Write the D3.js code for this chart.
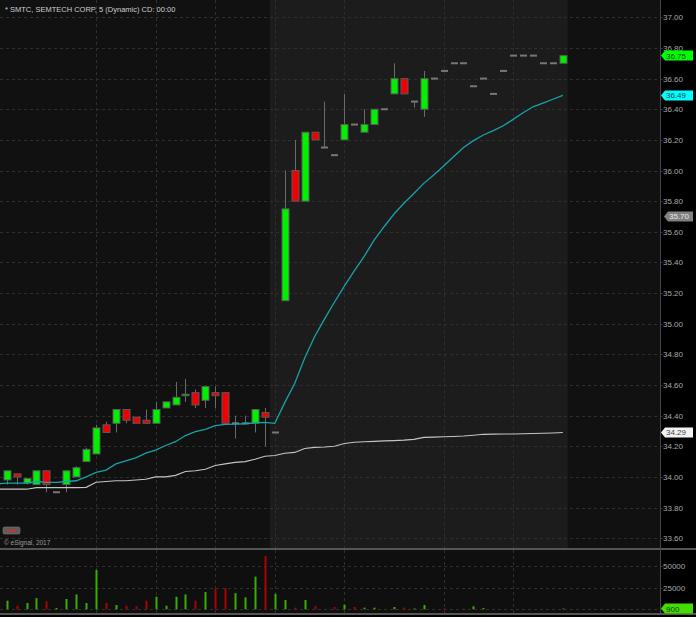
<!DOCTYPE html>
<html>
<head>
<meta charset="utf-8">
<script src="https://cdn.jsdelivr.net/npm/d3@7/dist/d3.min.js"></script>
<style>
  body { margin: 0; background: #000; overflow: hidden; }
  svg { display: block; font-family: Arial, "Liberation Sans", Helvetica, sans-serif; }
</style>
</head>
<body>
<svg id="chart" width="696" height="617"></svg>
<script>
// --- data (5 minute bars, SMTC) ---
const title = "* SMTC, SEMTECH CORP, 5 (Dynamic) CD: 00:00";

const opens  = [33.98, 34.02, 33.96, 33.95, 34.04, 33.90, 33.95, 34.00, 34.10, 34.15,
                34.34, 34.35, 34.44, 34.39, 34.37, 34.35, 34.45, 34.47, 34.53, 34.55,
                34.50, 34.55, 34.55, 34.35, 34.35, 34.35, 34.42, 34.29, 35.15, 36.00,
                35.80, 36.25, 36.15, 36.10, 36.20, 36.30, 36.25, 36.30, 36.40, 36.50,
                36.60, 36.45, 36.40, 36.60, 36.65, 36.70, 36.70, 36.55, 36.60, 36.50,
                36.65, 36.75, 36.75, 36.75, 36.70, 36.70, 36.70];
const highs  = [34.04, 34.02, 33.99, 34.04, 34.04, 33.90, 34.04, 34.07, 34.19, 34.34,
                34.36, 34.44, 34.44, 34.39, 34.44, 34.49, 34.49, 34.62, 34.64, 34.57,
                34.59, 34.59, 34.55, 34.40, 34.40, 34.44, 34.45, 34.29, 36.00, 36.20,
                36.25, 36.25, 36.45, 36.10, 36.50, 36.30, 36.40, 36.40, 36.40, 36.70,
                36.60, 36.45, 36.65, 36.60, 36.65, 36.70, 36.70, 36.55, 36.60, 36.50,
                36.65, 36.75, 36.75, 36.75, 36.70, 36.70, 36.75];
const lows   = [33.95, 33.95, 33.95, 33.95, 33.90, 33.90, 33.90, 34.00, 34.10, 34.15,
                34.29, 34.29, 34.35, 34.35, 34.35, 34.35, 34.45, 34.47, 34.49, 34.45,
                34.45, 34.45, 34.35, 34.25, 34.35, 34.29, 34.20, 34.29, 35.15, 35.80,
                35.80, 36.20, 36.15, 36.10, 36.20, 36.30, 36.25, 36.30, 36.40, 36.50,
                36.50, 36.41, 36.35, 36.60, 36.65, 36.70, 36.70, 36.55, 36.60, 36.50,
                36.65, 36.75, 36.75, 36.75, 36.70, 36.70, 36.70];
const closes = [34.04, 34.00, 33.99, 34.04, 33.95, 33.90, 34.04, 34.06, 34.18, 34.32,
                34.29, 34.44, 34.37, 34.35, 34.35, 34.44, 34.49, 34.52, 34.54, 34.47,
                34.59, 34.53, 34.35, 34.35, 34.35, 34.44, 34.39, 34.29, 35.75, 35.80,
                36.25, 36.20, 36.15, 36.10, 36.30, 36.30, 36.30, 36.40, 36.40, 36.60,
                36.50, 36.45, 36.60, 36.60, 36.65, 36.70, 36.70, 36.55, 36.60, 36.50,
                36.65, 36.75, 36.75, 36.75, 36.70, 36.70, 36.75];
const volumes = [10000, 4200, 7300, 13000, 9200, 1500, 12000, 17300, 7300, 45800,
                 7300, 5000, 4200, 3500, 10000, 14600, 4200, 14600, 17300, 10000,
                 20000, 23500, 24600, 18800, 13800, 38000, 62000, 18000, 10800, 1900,
                 10800, 3800, 0, 2700, 5400, 2700, 1900, 1900, 0, 2700,
                 1900, 1000, 5000, 0, 1000, 0, 800, 3500, 1500, 0,
                 0, 0, 0, 0, 0, 0, 900];
const volUp = [1, 0, 1, 1, 0, 1, 1, 1, 1, 1,
               0, 1, 0, 0, 0, 1, 1, 1, 1, 0,
               1, 0, 0, 1, 1, 1, 0, 1, 1, 0,
               1, 0, 1, 0, 1, 0, 1, 1, 1, 1,
               0, 1, 1, 1, 0, 1, 0, 1, 1, 1,
               1, 1, 1, 1, 1, 1, 1];
// moving averages; first value belongs to the bar just before the visible window
const cyanAvg = [33.955,
                 33.96, 33.96, 33.96, 33.97, 33.965, 33.965, 33.97, 33.975, 34.00, 34.03,
                 34.045, 34.085, 34.105, 34.125, 34.155, 34.175, 34.205, 34.23, 34.27, 34.295,
                 34.31, 34.335, 34.343, 34.345, 34.347, 34.353, 34.356, 34.35, 34.485, 34.61,
                 34.775, 34.915, 35.03, 35.14, 35.245, 35.345, 35.44, 35.546, 35.633, 35.716,
                 35.786, 35.85, 35.916, 35.97, 36.03, 36.09, 36.15, 36.195, 36.232, 36.26,
                 36.292, 36.334, 36.377, 36.416, 36.44, 36.465, 36.49];
const whiteAvg = [33.92,
                  33.92, 33.92, 33.92, 33.93, 33.93, 33.93, 33.93, 33.93, 33.932, 33.965,
                  33.97, 33.975, 33.975, 33.98, 33.985, 34.00, 34.00, 34.01, 34.035, 34.04,
                  34.05, 34.075, 34.085, 34.095, 34.10, 34.115, 34.135, 34.14, 34.155, 34.16,
                  34.185, 34.193, 34.195, 34.20, 34.218, 34.226, 34.23, 34.232, 34.235, 34.237,
                  34.24, 34.245, 34.258, 34.26, 34.262, 34.264, 34.267, 34.272, 34.278, 34.279,
                  34.28, 34.28, 34.282, 34.283, 34.285, 34.287, 34.29];

const priceTicks = [33.6, 33.8, 34.0, 34.2, 34.4, 34.6, 34.8, 35.0, 35.2, 35.4,
                    35.6, 35.8, 36.0, 36.2, 36.4, 36.6, 36.8, 37.0];
const volumeTicks = [0, 25000, 50000];
const volumeLabels = [25000, 50000];
const timeGridBars = [9, 15, 21, 27, 34, 44, 51];
const sessionStartBar = 27;
const priceMarkers = [36.75, 36.49, 35.70, 34.29];
const lastVolume = 900;

// --- layout ---
const width = 696, height = 617;
const plotRight = 660;
const priceBottom = 548;
const volTop = 550, volBottom = 613;
const n = opens.length;

const svg = d3.select("#chart");

const x = d3.scaleLinear().domain([0, n - 1]).range([6.7, 562.8]);
const y = d3.scaleLinear().domain([33.6, 37.0]).range([538.2, 17.3]);
const v = d3.scaleLinear().domain([0, 50000]).range([609.3, 566.3]);
const step = x(1) - x(0);
const bodyW = 7;

svg.append("rect").attr("width", width).attr("height", height).attr("fill", "#000");

const defs = svg.append("defs");
defs.append("clipPath").attr("id", "priceClip")
    .append("rect").attr("x", 0).attr("y", 0).attr("width", plotRight).attr("height", priceBottom);
defs.append("clipPath").attr("id", "volClip")
    .append("rect").attr("x", 0).attr("y", volTop).attr("width", plotRight).attr("height", volBottom - volTop);

// price panel background + regular session shading
svg.append("rect").attr("x", 0).attr("y", 0).attr("width", plotRight).attr("height", priceBottom)
    .attr("fill", "#111111");
svg.append("rect")
    .attr("x", x(sessionStartBar - 0.5))
    .attr("y", 0)
    .attr("width", x(n - 0.5) - x(sessionStartBar - 0.5))
    .attr("height", priceBottom)
    .attr("fill", "#1c1c1c");

// volume panel background
svg.append("rect").attr("x", 0).attr("y", volTop).attr("width", plotRight).attr("height", volBottom - volTop)
    .attr("fill", "#0f0f0f");

// grid
const grid = svg.append("g").attr("stroke", "#2f2f2f").attr("stroke-dasharray", "3,3");
grid.selectAll(".hgrid").data(priceTicks).enter().append("line")
    .attr("x1", 0).attr("x2", plotRight + 3)
    .attr("y1", d => Math.round(y(d)) + 0.5).attr("y2", d => Math.round(y(d)) + 0.5);
grid.selectAll(".vgrid").data(timeGridBars).enter().append("line")
    .attr("x1", d => Math.round(x(d)) + 0.5).attr("x2", d => Math.round(x(d)) + 0.5)
    .attr("y1", 0).attr("y2", priceBottom);
grid.selectAll(".vgrid2").data(timeGridBars).enter().append("line")
    .attr("x1", d => Math.round(x(d)) + 0.5).attr("x2", d => Math.round(x(d)) + 0.5)
    .attr("y1", volTop).attr("y2", volBottom);
grid.selectAll(".volgrid").data(volumeTicks).enter().append("line")
    .attr("x1", 0).attr("x2", plotRight + 3)
    .attr("y1", d => Math.round(v(d)) + 0.5).attr("y2", d => Math.round(v(d)) + 0.5);

// candles
const candles = svg.append("g").attr("clip-path", "url(#priceClip)");
d3.range(n).forEach(function (i) {
    const o = opens[i], h = highs[i], l = lows[i], c = closes[i];
    const cx = Math.round(x(i)) + 0.5;
    if (h > l) {
        candles.append("line")
            .attr("x1", cx).attr("x2", cx)
            .attr("y1", y(h)).attr("y2", y(l))
            .attr("stroke", "#6a6a6a").attr("stroke-width", 1);
    }
    if (o === c) {
        // unchanged bar: flat gray dash
        candles.append("rect")
            .attr("x", cx - bodyW / 2).attr("y", y(c) - 1)
            .attr("width", bodyW).attr("height", 2)
            .attr("fill", "#777");
    } else {
        const top = y(Math.max(o, c)), bot = y(Math.min(o, c));
        candles.append("rect")
            .attr("x", cx - bodyW / 2).attr("y", top)
            .attr("width", bodyW).attr("height", Math.max(1, bot - top))
            .attr("fill", c > o ? "#00f000" : "#f00000")
            .attr("stroke", "#5a5a5a").attr("stroke-width", 1);
    }
});

// moving averages (index 0 is the bar before the window)
const avgLine = d3.line().x((d, i) => x(i - 1)).y(d => y(d));
candles.append("path").datum(whiteAvg)
    .attr("d", avgLine).attr("fill", "none")
    .attr("stroke", "#c4c4c4").attr("stroke-width", 1.1);
candles.append("path").datum(cyanAvg)
    .attr("d", avgLine).attr("fill", "none")
    .attr("stroke", "#17a3ab").attr("stroke-width", 1.3);

// volume bars
svg.append("g").attr("clip-path", "url(#volClip)")
    .selectAll("rect").data(volumes).enter().append("rect")
    .attr("x", (d, i) => Math.round(x(i)) - 0.5)
    .attr("y", d => v(d))
    .attr("width", 2)
    .attr("height", d => v(0) - v(d))
    .attr("fill", (d, i) => volUp[i] ? "#36b000" : "#b00000");

// panel separators and axis line
svg.append("rect").attr("x", 0).attr("y", priceBottom).attr("width", width).attr("height", 2).attr("fill", "#555");
svg.append("rect").attr("x", 0).attr("y", volBottom).attr("width", width).attr("height", 2).attr("fill", "#555");
svg.append("line").attr("x1", plotRight + 0.5).attr("x2", plotRight + 0.5)
    .attr("y1", 0).attr("y2", volBottom).attr("stroke", "#444");

// right axes
const priceAxis = d3.axisRight(y)
    .tickValues(priceTicks)
    .tickFormat(d3.format(".2f"))
    .tickSize(0).tickSizeOuter(0).tickPadding(3);
const pa = svg.append("g").attr("transform", "translate(" + plotRight + ",0)").call(priceAxis);
pa.select(".domain").remove();
pa.selectAll("text").attr("fill", "#a8a8a8").style("font-size", "8px");

const volAxis = d3.axisRight(v)
    .tickValues(volumeLabels)
    .tickFormat(d3.format("d"))
    .tickSize(0).tickSizeOuter(0).tickPadding(3);
const va = svg.append("g").attr("transform", "translate(" + plotRight + ",0)").call(volAxis);
va.select(".domain").remove();
va.selectAll("text").attr("fill", "#a8a8a8").style("font-size", "8px");

// value flags on the axis
function flag(yPos, label, fill, textColor, left) {
    const x0 = left, tip = left - 4, x1 = 693;
    const g = svg.append("g");
    g.append("path")
        .attr("d", "M" + tip + "," + yPos + " L" + x0 + "," + (yPos - 5) + " L" + x1 + "," + (yPos - 5) +
            " L" + x1 + "," + (yPos + 5) + " L" + x0 + "," + (yPos + 5) + " Z")
        .attr("fill", fill);
    g.append("text")
        .attr("x", x0 + 1).attr("y", yPos + 3)
        .attr("fill", textColor)
        .style("font-size", "8px")
        .text(label);
}
const flagFills = ["#00ff00", "#00ffff", "#808080", "#f2f2f2"];
const flagText = ["#1a3a1a", "#1a3a3a", "#e8e8e8", "#444"];
const flagLeft = [665, 665, 668, 665];
priceMarkers.forEach(function (p, i) {
    flag(y(p), d3.format(".2f")(p), flagFills[i], flagText[i], flagLeft[i]);
});
flag(v(lastVolume), String(lastVolume), "#44dd00", "#1a3a1a", 665);

// title and footer texts
svg.append("text").attr("x", 5).attr("y", 12)
    .attr("fill", "#cfcfcf").style("font-size", "7.5px")
    .text(title);
svg.append("text").attr("x", 4).attr("y", 545)
    .attr("fill", "#9a9a9a").style("font-size", "6.5px")
    .text("\u00a9 eSignal, 2017");

// small scroll button bottom left
const btn = svg.append("g").attr("transform", "translate(3,527)");
btn.append("rect").attr("width", 17).attr("height", 7).attr("rx", 1.5)
    .attr("fill", "#5c5c5c").attr("stroke", "#7a7a7a").attr("stroke-width", 0.6);
btn.append("path").attr("d", "M5,1.5 V5.5 M12,1.5 V5.5 M6,3.5 H11")
    .attr("stroke", "#ff2020").attr("stroke-width", 1).attr("fill", "none");
</script>
</body>
</html>
